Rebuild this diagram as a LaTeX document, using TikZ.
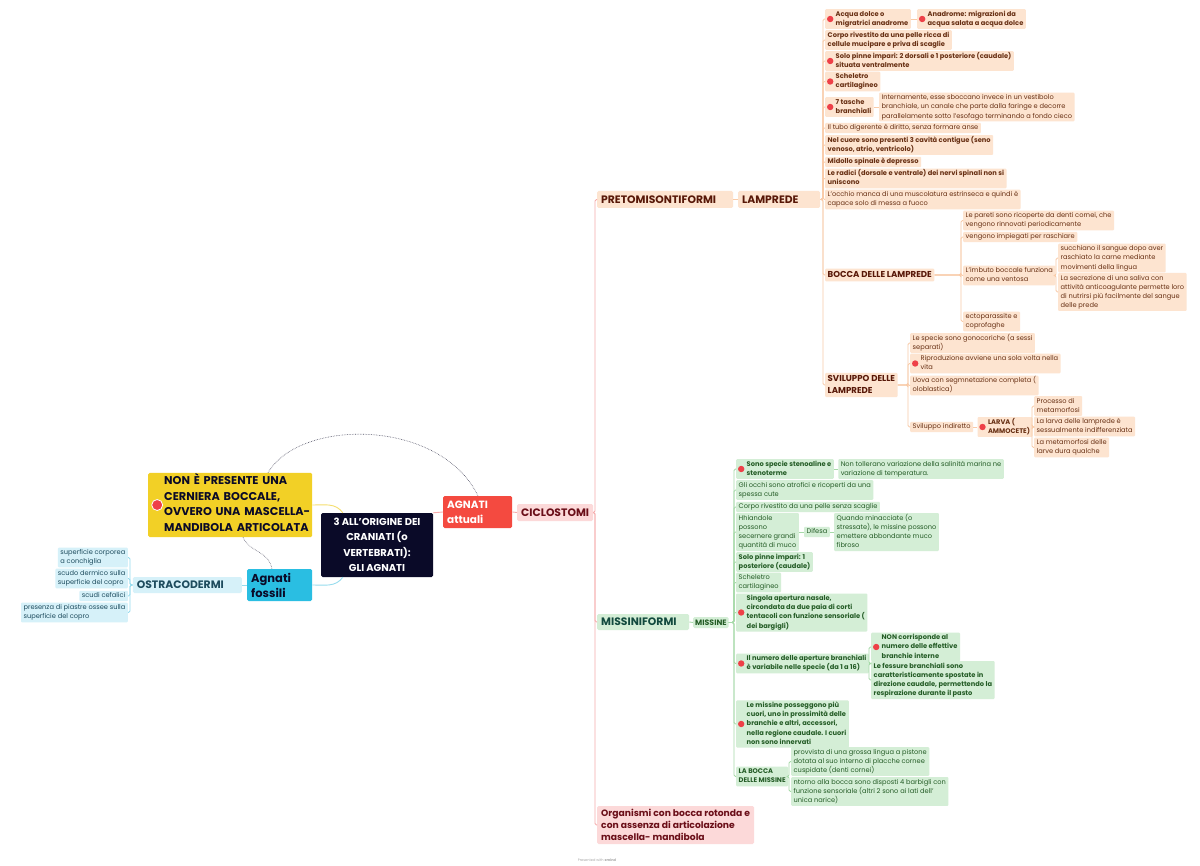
\documentclass[tikz,border=0pt]{standalone}
\usepackage{fontspec}
\setmainfont{Poppins}
\usetikzlibrary{positioning,calc}
\definecolor{peachfill}{RGB}{253,228,208}
\definecolor{peachline}{RGB}{249,203,168}
\definecolor{peachtext}{RGB}{104,48,20}
\definecolor{peachhead}{RGB}{88,24,8}
\definecolor{greenfill}{RGB}{212,238,214}
\definecolor{greenline}{RGB}{166,218,168}
\definecolor{greentext}{RGB}{36,92,38}
\definecolor{greenhead}{RGB}{18,74,62}
\definecolor{bluefill}{RGB}{214,241,249}
\definecolor{blueline}{RGB}{150,220,238}
\definecolor{bluetext}{RGB}{30,76,94}
\definecolor{pinkfill}{RGB}{252,217,217}
\definecolor{pinkline}{RGB}{246,170,170}
\definecolor{redtext}{RGB}{106,14,24}
\definecolor{agnatired}{RGB}{244,74,64}
\definecolor{navybox}{RGB}{10,10,40}
\definecolor{yellowbox}{RGB}{242,208,38}
\definecolor{yellowline}{RGB}{245,222,110}
\definecolor{fossilblue}{RGB}{42,190,226}
\definecolor{dotred}{RGB}{238,64,72}
\definecolor{relgrey}{RGB}{80,80,100}
\newcommand{\smallfont}{\fontsize{6.65}{9.2}\selectfont}
\newcommand{\boldfont}{\fontsize{6.7}{9.2}\selectfont\bfseries}
\newcommand{\headfont}{\fontsize{10.8}{13}\selectfont\bfseries}
\newcommand{\txt}[1]{\begin{tabular}{@{}l@{}}#1\end{tabular}}
\newcommand{\dtxt}[1]{\begin{tabular}{@{\hspace{8pt}}l@{}}#1\end{tabular}}
\tikzset{
  topic/.style={rectangle, rounded corners=1.5pt, inner xsep=4pt, inner ysep=1pt, anchor=west, align=left, font=\headfont},
  leaf/.style={rectangle, rounded corners=1pt, inner xsep=2.5pt, inner ysep=0.6pt, anchor=west, font=\smallfont},
  lam/.style={leaf, fill=peachfill, text=peachtext},
  mis/.style={leaf, fill=greenfill, text=greentext},
  ost/.style={leaf, fill=bluefill, text=bluetext, anchor=east},
  bold/.style={font=\boldfont},
  dot/.style={path picture={\fill[dotred] ([xshift=5pt]path picture bounding box.west) circle (3.2pt);}},
  lline/.style={draw=peachline, line width=0.9pt, rounded corners=1.5pt},
  mline/.style={draw=greenline, line width=0.9pt, rounded corners=1.5pt},
  oline/.style={draw=blueline, line width=0.9pt, rounded corners=1.5pt},
  cline/.style={draw=pinkline, line width=0.9pt, rounded corners=1.5pt},
  yline/.style={draw=yellowline, line width=0.9pt},
  relation/.style={draw=relgrey, line width=0.6pt, densely dotted},
}
\begin{document}
\begin{tikzpicture}[x=1pt,y=-1pt]
\useasboundingbox[fill=white] (0,0) rectangle (1200,866);

% centre and first level
\node[topic, anchor=center, align=center, fill=navybox, text=white, minimum width=112pt, minimum height=64pt,
  font=\fontsize{10}{15.5}\selectfont\bfseries] (root) at (377,545) {3 ALL'ORIGINE DEI\\CRANIATI (o\\VERTEBRATI):\\GLI AGNATI};
\node[topic, fill=yellowbox, text=navybox, text width=156pt, minimum height=62pt, font=\fontsize{11.3}{15.5}\selectfont\bfseries,
  path picture={\fill[dotred, draw=white, line width=0.8pt] ([xshift=9pt]path picture bounding box.west) circle (5.5pt);}]
  (noart) at (148,505) {\begin{tabular}{@{\hspace{12pt}}l@{}}NON È PRESENTE UNA\\CERNIERA BOCCALE,\\OVVERO UNA MASCELLA-\\MANDIBOLA ARTICOLATA\end{tabular}};
\node[topic, fill=agnatired, text=white, text width=61pt, minimum height=32pt, font=\fontsize{10.5}{15}\selectfont\bfseries] (agnati) at (443,512) {AGNATI\\attuali};
\node[topic, fill=pinkfill, text=redtext, minimum height=17pt] (ciclo) at (517,512.5) {CICLOSTOMI};
\node[topic, fill=fossilblue, text=navybox, text width=57pt, minimum height=32pt, font=\fontsize{11.5}{15}\selectfont\bfseries] (fossili) at (247,585) {Agnati\\fossili};
\node[topic, anchor=east, fill=bluefill, text=bluetext, text width=101pt, minimum height=16pt] (ostraco) at (242,585) {OSTRACODERMI};

\node[ost] (conch) at (128,557.5) {\txt{superficie corporea\\a conchiglia}};
\node[ost] (scudo) at (128,578.5) {\txt{scudo dermico sulla\\superficie del copro}};
\node[ost] (cefal) at (128,596) {\txt{scudi cefalici}};
\node[ost] (piastre) at (128,612.5) {\txt{presenza di piastre ossee sulla\\superficie del copro}};

\node[topic, fill=peachfill, text=peachhead, text width=128pt, minimum height=17pt] (pretomi) at (597,199.5) {PRETOMISONTIFORMI};
\node[topic, fill=peachfill, text=peachhead, text width=74pt, minimum height=17pt] (lampre) at (738,199.5) {LAMPREDE};
\node[topic, fill=greenfill, text=greenhead, text width=84pt, minimum height=16pt] (missini) at (597,622) {MISSINIFORMI};
\node[topic, fill=greenfill, text=greentext, inner xsep=2pt, minimum height=11pt, font=\fontsize{7.8}{9}\selectfont\bfseries] (missine) at (693,622.5) {MISSINE};
\node[topic, fill=pinkfill, text=redtext, minimum height=38pt, font=\fontsize{9.2}{12}\selectfont\bfseries] (bocrot) at (597,825) {Organismi con bocca rotonda e\\con assenza di articolazione\\mascella- mandibola};

% lamprede
\node[lam, bold, dot] (acqua) at (825,19) {\dtxt{Acqua dolce o\\migratrici anadrome}};
\node[lam, bold, dot, right=6pt of acqua] (anadrome) {\dtxt{Anadrome: migrazioni da\\acqua salata a acqua dolce}};
\node[lam, bold] (pelle) at (825,40) {\txt{Corpo rivestito da una pelle ricca di\\cellule mucipare e priva di scaglie}};
\node[lam, bold, dot] (pinne) at (825,61) {\dtxt{Solo pinne impari: 2 dorsali e 1 posteriore (caudale)\\situata ventralmente}};
\node[lam, bold, dot] (schel) at (825,81.5) {\dtxt{Scheletro\\cartilagineo}};
\node[lam, bold, dot] (tasche) at (825,107) {\dtxt{7 tasche\\branchiali}};
\node[lam, right=5pt of tasche] (vestib) {\txt{Internamente, esse sboccano invece in un vestibolo\\branchiale, un canale che parte dalla faringe e decorre\\parallelamente sotto l'esofago terminando a fondo cieco}};
\node[lam] (tubo) at (825,128) {\txt{Il tubo digerente è diritto, senza formare anse}};
\node[lam, bold] (cuore) at (825,145) {\txt{Nel cuore sono presenti 3 cavità contigue (seno\\venoso, atrio, ventricolo)}};
\node[lam, bold] (midollo) at (825,162) {\txt{Midollo spinale è depresso}};
\node[lam, bold] (radici) at (825,178.5) {\txt{Le radici (dorsale e ventrale) dei nervi spinali non si\\uniscono}};
\node[lam] (occhio) at (825,199.5) {\txt{L'occhio manca di una muscolatura estrinseca e quindi è\\capace solo di messa a fuoco}};
\node[lam, text=peachhead, font=\fontsize{8.6}{11.5}\selectfont\bfseries] (bocca) at (825,275) {\txt{BOCCA DELLE LAMPREDE}};
\node[lam] (denti) at (963,220.5) {\txt{Le pareti sono ricoperte da denti cornei, che\\vengono rinnovati periodicamente}};
\node[lam] (raschi) at (963,237) {\txt{vengono impiegati per raschiare}};
\node[lam] (imbuto) at (963,275.5) {\txt{L'imbuto boccale funziona\\come una ventosa}};
\node[lam] (sangue) at (1058,258) {\txt{succhiano il sangue dopo aver\\raschiato la carne mediante\\movimenti della lingua}};
\node[lam] (saliva) at (1058,292) {\txt{La secrezione di una saliva con\\attività anticoagulante permette loro\\di nutrirsi più facilmente del sangue\\delle prede}};
\node[lam] (ecto) at (963,321.5) {\txt{ectoparassite e\\coprofaghe}};
\node[lam, text=peachhead, font=\fontsize{8.6}{11.5}\selectfont\bfseries] (svil) at (825,385) {\txt{SVILUPPO DELLE\\LAMPREDE}};
\node[lam] (gono) at (910,343) {\txt{Le specie sono gonocoriche (a sessi\\separati)}};
\node[lam, dot] (unavolta) at (910,363.5) {\dtxt{Riproduzione avviene una sola volta nella\\vita}};
\node[lam] (uova) at (910,385.5) {\txt{Uova con segmnetazione completa (\\oloblastica)}};
\node[lam] (indir) at (910,427) {\txt{Sviluppo indiretto}};
\node[lam, bold, dot, right=4pt of indir] (larva) {\dtxt{LARVA (\\AMMOCETE)}};
\node[lam] (metam) at (1034,406) {\txt{Processo di\\metamorfosi}};
\node[lam] (indiff) at (1034,426.5) {\txt{La larva delle lamprede è\\sessualmente indifferenziata}};
\node[lam] (durata) at (1034,447.5) {\txt{La metamorfosi delle\\larve dura qualche}};

% missine
\node[mis, bold, dot] (steno) at (736,469) {\dtxt{Sono specie stenoaline e\\stenoterme}};
\node[mis, right=4pt of steno] (salin) {\txt{Non tollerano variazione della salinità marina ne\\variazione di temperatura.}};
\node[mis] (atrof) at (736,490) {\txt{Gli occhi sono atrofici e ricoperti da una\\spessa cute}};
\node[mis] (senza) at (736,507) {\txt{Corpo rivestito da una pelle senza scaglie}};
\node[mis] (ghiand) at (736,532) {\txt{Hhiandole\\possono\\secernere grandi\\quantità di muco}};
\node[mis, right=5pt of ghiand] (difesa) {\txt{Difesa}};
\node[mis, right=4pt of difesa] (muco) {\txt{Quando minacciate (o\\stressate), le missine possono\\emettere abbondante muco\\fibroso}};
\node[mis, bold] (impari) at (736,562) {\txt{Solo pinne impari: 1\\posteriore (caudale)}};
\node[mis] (cartil) at (736,582.5) {\txt{Scheletro\\cartilagineo}};
\node[mis, bold, dot] (nasale) at (736,612.5) {\dtxt{Singola apertura nasale,\\circondata da due paia di corti\\tentacoli con funzione sensoriale (\\dei bargigli)}};
\node[mis, bold, dot] (apert) at (736,663.5) {\dtxt{Il numero delle aperture branchiali\\è variabile nelle specie (da 1 a 16)}};
\node[mis, bold, dot] (noncorr) at (871,647) {\dtxt{NON corrisponde al\\numero delle effettive\\branchie interne}};
\node[mis, bold] (fessure) at (871,680) {\txt{Le fessure branchiali sono\\caratteristicamente spostate in\\direzione caudale, permettendo la\\respirazione durante il pasto}};
\node[mis, bold, dot] (cuori) at (736,724) {\dtxt{Le missine posseggono più\\cuori, uno in prossimità delle\\branchie e altri, accessori,\\nella regione caudale. I cuori\\non sono innervati}};
\node[mis, bold] (boccam) at (736,776.5) {\txt{LA BOCCA\\DELLE MISSINE}};
\node[mis] (lingua) at (791,761.5) {\txt{provvista di una grossa lingua a pistone\\dotata al suo interno di placche cornee\\cuspidate (denti cornei)}};
\node[mis] (barbigli) at (791,791.5) {\txt{ntorno alla bocca sono disposti 4 barbigli con\\funzione sensoriale (altri 2 sono ai lati dell'\\unica narice)}};

\node[font=\fontsize{3.5}{4}\selectfont, text=black!35] (credit) at (597,860) {Presented with \textbf{xmind}};

% connectors
\draw[cline] (root.north east) -- (agnati.west);
\draw[cline] (agnati.east) -- (ciclo.west);
\foreach \c in {pretomi,missini,bocrot}
  \draw[cline] (ciclo.east) -| ([xshift=-2pt]\c.west) -- (\c.west);
\draw[yline] (noart.east) to[out=0,in=125] ([xshift=22pt]root.north west);
\draw[oline] ([xshift=22pt]root.south west) to[out=-125,in=0] (fossili.east);
\draw[oline] (fossili.west) -- (ostraco.east);
\foreach \c in {conch,scudo,cefal,piastre}
  \draw[oline] (ostraco.west) -| ([xshift=2pt]\c.east) -- (\c.east);
\draw[relation] ([xshift=120pt]noart.north west) .. controls (300,418) and (440,418) .. ([xshift=35pt]agnati.north west);
\draw[relation] ([xshift=95pt]noart.south west) .. controls (250,553) and (268,550) .. ([xshift=25pt]fossili.north west);

\draw[lline] (pretomi.east) -- (lampre.west);
\foreach \c in {acqua,pelle,pinne,schel,tasche,tubo,cuore,midollo,radici,occhio,bocca,svil}
  \draw[lline] (lampre.east) -| ([xshift=-2pt]\c.west) -- (\c.west);
\draw[lline] (acqua.east) -- (anadrome.west);
\draw[lline] (tasche.east) -- (vestib.west);
\foreach \c in {denti,raschi,imbuto,ecto}
  \draw[lline] (bocca.east) -| ([xshift=-2pt]\c.west) -- (\c.west);
\foreach \c in {sangue,saliva}
  \draw[lline] (imbuto.east) -| ([xshift=-2pt]\c.west) -- (\c.west);
\foreach \c in {gono,unavolta,uova,indir}
  \draw[lline] (svil.east) -| ([xshift=-2pt]\c.west) -- (\c.west);
\draw[lline] (indir.east) -- (larva.west);
\foreach \c in {metam,indiff,durata}
  \draw[lline] (larva.east) -| ([xshift=-2pt]\c.west) -- (\c.west);

\draw[mline] (missini.east) -- (missine.west);
\foreach \c in {steno,atrof,senza,ghiand,impari,cartil,nasale,apert,cuori,boccam}
  \draw[mline] (missine.east) -| ([xshift=-2pt]\c.west) -- (\c.west);
\draw[mline] (steno.east) -- (salin.west);
\draw[mline] (ghiand.east) -- (difesa.west);
\draw[mline] (difesa.east) -- (muco.west);
\foreach \c in {noncorr,fessure}
  \draw[mline] (apert.east) -| ([xshift=-2pt]\c.west) -- (\c.west);
\foreach \c in {lingua,barbigli}
  \draw[mline] (boccam.east) -| ([xshift=-2pt]\c.west) -- (\c.west);
\end{tikzpicture}
\end{document}
